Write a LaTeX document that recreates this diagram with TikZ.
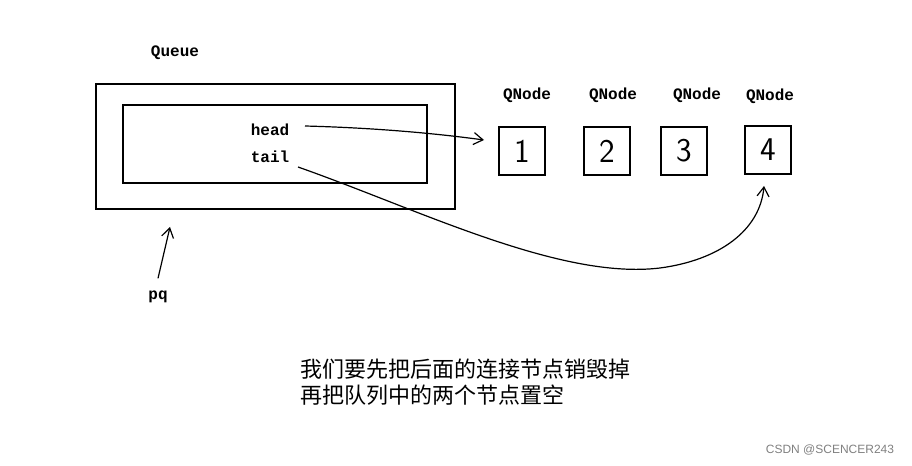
\documentclass[tikz,border=0pt]{standalone}
\usepackage{fontspec}
\setmonofont{Liberation Mono}
\newfontfamily\cjk{Noto Sans CJK SC}
\newfontfamily\wmfont{Liberation Sans}
\usetikzlibrary{arrows.meta}
\tikzset{
  lbl/.style={font=\ttfamily\bfseries\large},
  qbox/.style={draw,line width=1.5pt,minimum width=35pt,minimum height=36pt},
  digit/.style={font=\Huge\sffamily},
  hand/.style={line width=0.9pt,-{Straight Barb[length=7pt,width=9pt]}}
}
\begin{document}
\begin{tikzpicture}[x=0.75pt,y=-0.75pt]
\useasboundingbox (0,0) rectangle (912,466);
% queue struct
\node (queue) at (175,53) [lbl] {Queue};
\draw[line width=1.5pt] (96,84) rectangle (455,209);
\draw[line width=1.5pt] (123,105) rectangle (427,183);
\node (head) at (270,130) [lbl] {head};
\node (tail) at (270,157) [lbl] {tail};
% nodes
\node (q1) at (522,151) [qbox] {};
\node (q2) at (607,151) [qbox] {};
\node (q3) at (684,151) [qbox] {};
\node (q4) at (768,150) [qbox] {};
\node at (q1) [digit] {1};
\node at (q2) [digit] {2};
\node at (q3) [digit] {3};
\node at (q4) [digit] {4};
\node (l1) at (527,95) [lbl] {QNode};
\node (l2) at (613,95) [lbl] {QNode};
\node (l3) at (697,95) [lbl] {QNode};
\node (l4) at (770,96) [lbl] {QNode};
% pointers
\coordinate (hs) at (305,126);
\coordinate (he) at (484,140);
\coordinate (ts) at (298,167);
\coordinate (te) at (764,186);
\draw[hand] (hs) .. controls (380,128) and (440,134) .. (he);
\draw[hand] (ts) .. controls (420,210) and (560,280) .. (660,268)
  .. controls (720,260) and (760,230) .. (te);
% pq
\node (pq) at (158,297) [lbl] {pq};
\coordinate (pqe) at (170,227);
\draw[hand] (pq.north) ++(0,-8) -- (pqe);
% note
\node (note) at (296,382) [anchor=west,align=left,font=\cjk\fontsize{16.5}{20}\selectfont] {我们要先把后面的连接节点销毁掉\\再把队列中的两个节点置空};
\node (wm) at (830,450) [font=\wmfont\small,text=gray] {CSDN @SCENCER243};
\end{tikzpicture}
\end{document}
